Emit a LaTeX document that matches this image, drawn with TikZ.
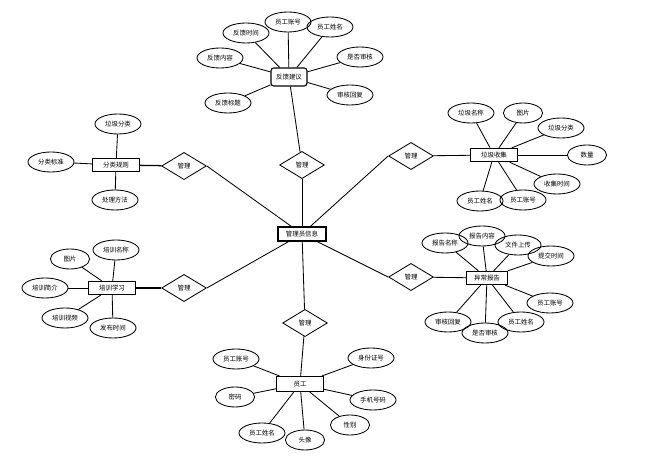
\documentclass[tikz,border=0pt]{standalone}
\usepackage{fontspec}
\newfontfamily\cjk{Noto Sans CJK SC}
\usepackage{tikz}
\usetikzlibrary{shapes.geometric}

\begin{document}
\begin{tikzpicture}[x=0.025cm,y=-0.025cm]
\tikzstyle{every node}=[font=\cjk\fontsize{4.6}{5}\selectfont]
\tikzstyle{attr}=[draw,ellipse,line width=0.6pt,minimum width=1.15cm,minimum height=0.5cm,inner sep=0pt]
\tikzstyle{sattr}=[attr,minimum width=0.98cm]
\tikzstyle{ent}=[draw,rectangle,line width=0.8pt,minimum width=1.18cm,minimum height=0.33cm,inner sep=0pt]
\tikzstyle{rel}=[draw,diamond,line width=0.6pt,minimum width=1.12cm,minimum height=0.68cm,inner sep=0pt]
\tikzstyle{conn}=[line width=0.6pt]
\useasboundingbox (0,0) rectangle (667,457);
\node[ent,minimum width=1.2cm,minimum height=0.35cm] (admin) at (302,234) {管理员信息};
\node[rel] (m1) at (302,165) {管理};
\node[rel] (m2) at (184,166) {管理};
\node[rel] (m3) at (184,288) {管理};
\node[rel] (m4) at (411,156) {管理};
\node[rel] (m5) at (411,277) {管理};
\node[rel] (m6) at (305,323) {管理};
\node[ent,rounded corners=2pt,minimum width=0.9cm,minimum height=0.45cm] (fk) at (289,77) {反馈建议};
\node[attr] (fk1) at (246,33) {反馈时间};
\node[attr] (fk2) at (288,22) {员工账号};
\node[attr] (fk3) at (330,27) {员工姓名};
\node[attr] (fk4) at (220,58) {反馈内容};
\node[attr] (fk5) at (360,57) {是否审核};
\node[attr] (fk6) at (350,95) {审核回复};
\node[attr] (fk7) at (228,103) {反馈标题};
\node[ent] (fl) at (116,165) {分类规则};
\node[attr] (fl1) at (118,124) {垃圾分类};
\node[attr] (fl2) at (51,162) {分类标准};
\node[attr] (fl3) at (115,200) {处理方法};
\node[ent] (sj) at (494,155) {垃圾收集};
\node[attr] (sj1) at (471,113) {垃圾名称};
\node[sattr] (sj2) at (523,113) {图片};
\node[attr] (sj3) at (561,128) {垃圾分类};
\node[sattr] (sj4) at (587,155) {数量};
\node[attr] (sj5) at (557,184) {收集时间};
\node[attr] (sj6) at (480,201) {员工姓名};
\node[attr] (sj7) at (523,200) {员工账号};
\node[ent] (px) at (112,288) {培训学习};
\node[sattr] (px1) at (70,259) {图片};
\node[attr] (px2) at (116,250) {培训名称};
\node[attr] (px3) at (45,288) {培训简介};
\node[attr] (px4) at (65,318) {培训视频};
\node[attr] (px5) at (113,328) {发布时间};
\node[ent,minimum width=1.02cm] (yc) at (487,278) {异常报告};
\node[attr] (yc1) at (445,243) {报告名称};
\node[attr] (yc2) at (482,236) {报告内容};
\node[attr] (yc3) at (518,245) {文件上传};
\node[attr] (yc4) at (551,256) {提交时间};
\node[attr] (yc5) at (550,303) {员工账号};
\node[attr] (yc6) at (521,322) {员工姓名};
\node[attr] (yc7) at (448,322) {审核回复};
\node[attr] (yc8) at (485,333) {是否审核};
\node[ent,minimum height=0.37cm] (yg) at (300,384) {员工};
\node[attr] (yg1) at (236,359) {员工账号};
\node[attr] (yg2) at (371,358) {身份证号};
\node[sattr] (yg3) at (235,397) {密码};
\node[attr] (yg4) at (373,400) {手机号码};
\node[sattr] (yg5) at (350,425) {性别};
\node[attr] (yg6) at (262,433) {员工姓名};
\node[sattr] (yg7) at (305,440) {头像};
\draw[conn] (admin) -- (m1);
\draw[conn] (admin) -- (m2.east);
\draw[conn] (admin) -- (m3.east);
\draw[conn] (admin) -- (m4.west);
\draw[conn] (admin) -- (m5.west);
\draw[conn] (admin) -- (m6);
\draw[conn] (fk) -- (m1);
\draw[conn,line width=0.9pt] (fl) -- (m2);
\draw[conn] (sj) -- (m4);
\draw[conn,line width=0.9pt] (px) -- (m3);
\draw[conn] (yc) -- (m5);
\draw[conn] (yg) -- (m6);
\draw[conn] (fk) -- (fk1);
\draw[conn] (fk) -- (fk2);
\draw[conn] (fk) -- (fk3);
\draw[conn] (fk) -- (fk4);
\draw[conn] (fk) -- (fk5);
\draw[conn] (fk) -- (fk6);
\draw[conn] (fk) -- (fk7);
\draw[conn] (fl) -- (fl1);
\draw[conn] (fl) -- (fl2);
\draw[conn] (fl) -- (fl3);
\draw[conn] (sj) -- (sj1);
\draw[conn] (sj) -- (sj2);
\draw[conn] (sj) -- (sj3);
\draw[conn] (sj) -- (sj4);
\draw[conn] (sj) -- (sj5);
\draw[conn] (sj) -- (sj6);
\draw[conn] (sj) -- (sj7);
\draw[conn] (px) -- (px1);
\draw[conn] (px) -- (px2);
\draw[conn] (px) -- (px3);
\draw[conn] (px) -- (px4);
\draw[conn] (px) -- (px5);
\draw[conn] (yc) -- (yc1);
\draw[conn] (yc) -- (yc2);
\draw[conn] (yc) -- (yc3);
\draw[conn] (yc) -- (yc4);
\draw[conn] (yc) -- (yc5);
\draw[conn] (yc) -- (yc6);
\draw[conn] (yc) -- (yc7);
\draw[conn] (yc) -- (yc8);
\draw[conn] (yg) -- (yg1);
\draw[conn] (yg) -- (yg2);
\draw[conn] (yg) -- (yg3);
\draw[conn] (yg) -- (yg4);
\draw[conn] (yg) -- (yg5);
\draw[conn] (yg) -- (yg6);
\draw[conn] (yg) -- (yg7);
\end{tikzpicture}
\end{document}
